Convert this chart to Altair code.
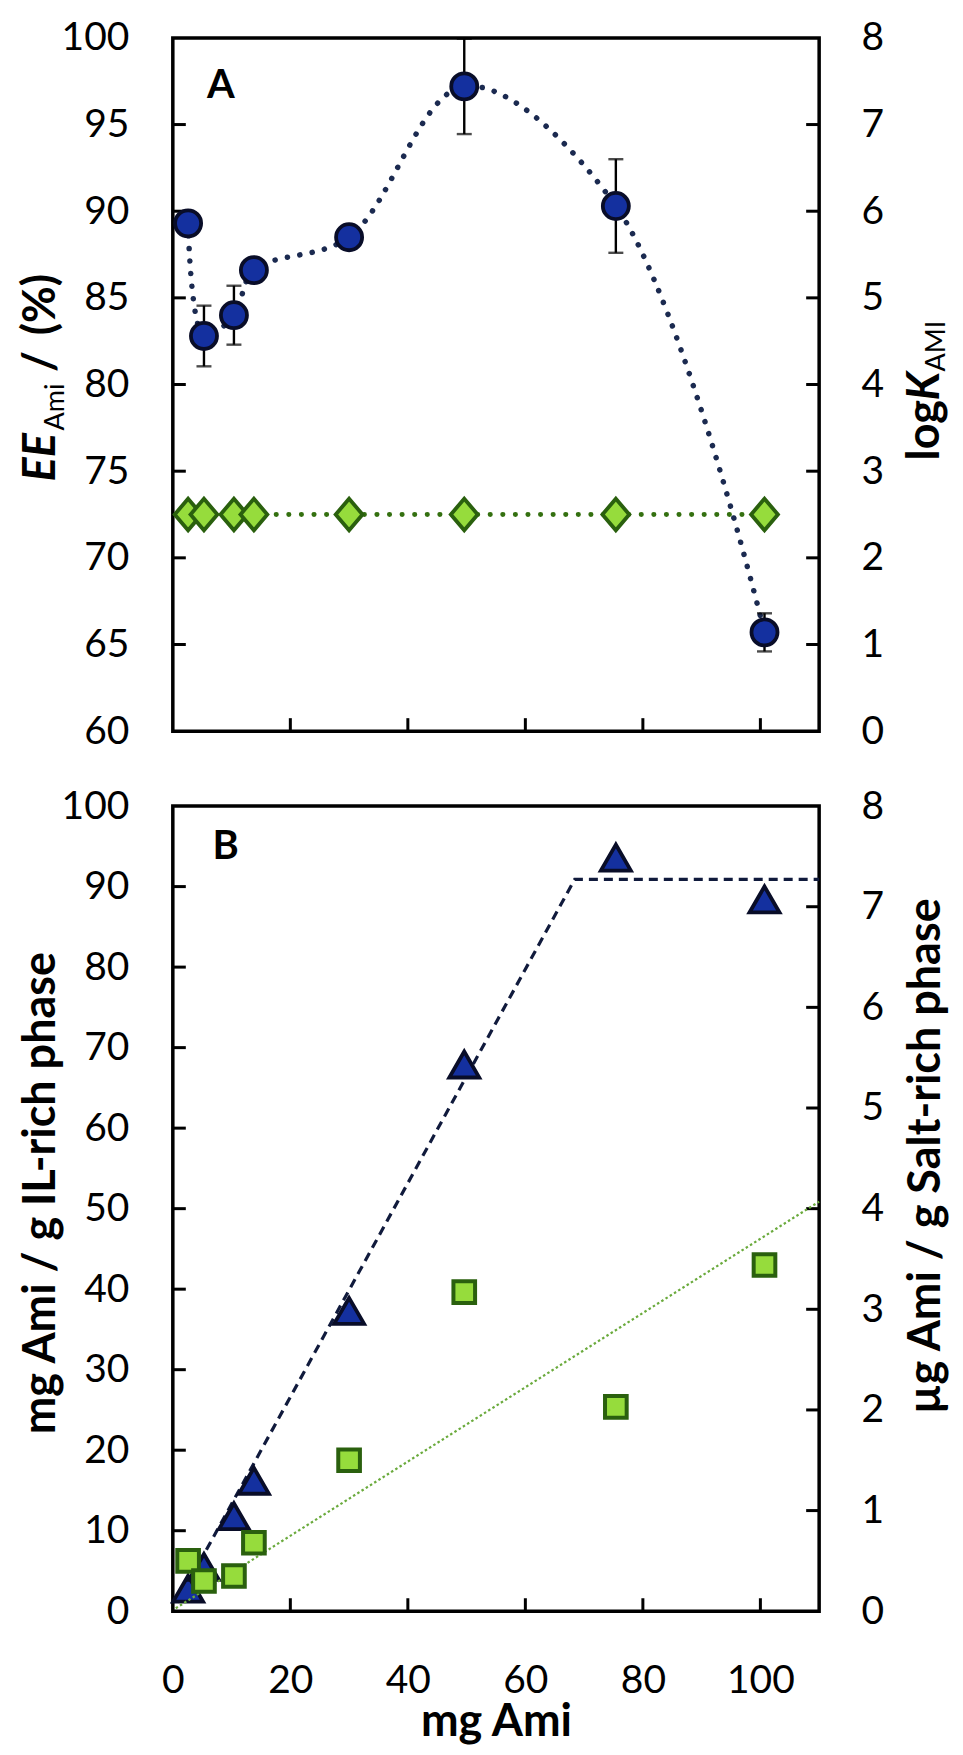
import altair as alt
import pandas as pd

# ---------------- data ----------------
mg_ami = [2.6, 5.3, 10.4, 13.8, 30.0, 49.6, 75.4, 100.7]
ee_ami = [89.3, 82.8, 84.0, 86.6, 88.5, 97.2, 90.3, 65.7]
ee_err = [0.4, 1.75, 1.7, 0.4, 0.4, 2.75, 2.7, 1.1]
logk_ami = [2.5, 2.5, 2.5, 2.5, 2.5, 2.5, 2.5, 2.5]

il_rich = [2.8, 5.5, 11.8, 16.2, 37.3, 67.9, 93.6, 88.4]
salt_rich = [0.50, 0.30, 0.35, 0.68, 1.50, 3.17, 2.03, 3.44]

il_fit_x = [0.8, 68.4, 110.0]
il_fit_y = [1.1, 90.9, 90.9]
salt_fit_x = [0.5, 110.0]
salt_fit_y = [0.03, 4.07]

x_ticks = [0, 20, 40, 60, 80, 100]
ee_ticks = [60, 65, 70, 75, 80, 85, 90, 95, 100]
logk_ticks = [0, 1, 2, 3, 4, 5, 6, 7, 8]
il_ticks = [0, 10, 20, 30, 40, 50, 60, 70, 80, 90, 100]
salt_ticks = [0, 1, 2, 3, 4, 5, 6, 7, 8]

panel_letters = ["A", "B"]
ee_title_parts = ["EE", "Ami", "/", "(%)"]
logk_title_parts = ["log", "K", "AMI"]
x_title = "mg Ami"
il_title = "mg Ami / g IL-rich phase"
salt_title = "µg Ami / g Salt-rich phase"

# ---------------- style ----------------
W, HA, HB = 647, 694, 806
FONT = "Lato"
LAB = 39
TIT = 45
SUB = 27
TICK = 13
TX = -118  # baseline of the left (rotated) titles, relative to the plot's left edge

NAVY_FILL = "#14309f"
NAVY_EDGE = "#090d28"
NAVY_LINE = "#1b2a50"
GREEN_FILL = "#96dc3c"
GREEN_EDGE = "#2a600e"
GREEN_LINE = "#347010"
GREEN_LINE_B = "#6aaa3c"
DIAMOND = "M0,-1L0.85,0L0,1L-0.85,0Z"

xs = alt.Scale(domain=[0, 110], nice=False, zero=False)

# ================= Panel A =================
dA = pd.DataFrame({"x": mg_ami, "ee": ee_ami, "err": ee_err, "logk": logk_ami})
dA["lo"] = dA["ee"] - dA["err"]
dA["hi"] = dA["ee"] + dA["err"]

ys_ee = alt.Scale(domain=[60, 100], nice=False, zero=False)
ax_ee = alt.Axis(values=ee_ticks, orient="left", title=None, labelPadding=44)
ys_lk = alt.Scale(domain=[0, 8], nice=False, zero=False)
ax_lk = alt.Axis(values=logk_ticks, orient="right", title=None, labelPadding=42)

xA = alt.X("x:Q", scale=xs, axis=None)
baseA = alt.Chart(dA)

tk_ee = alt.Chart(pd.DataFrame({"t": ee_ticks[1:-1]})).mark_rule(
    strokeWidth=3, color="black").encode(
    y=alt.Y("t:Q", scale=ys_ee, axis=ax_ee), x=alt.value(0), x2=alt.value(TICK))
tk_xA = alt.Chart(pd.DataFrame({"t": x_ticks[1:]})).mark_rule(
    strokeWidth=3, color="black").encode(
    x=alt.X("t:Q", scale=xs, axis=None), y=alt.value(HA - TICK), y2=alt.value(HA))
ee_line = baseA.mark_line(interpolate="catmull-rom", strokeDash=[0.1, 12.5],
                          strokeCap="round", strokeWidth=5.5, color=NAVY_LINE).encode(
    x=xA, y=alt.Y("ee:Q", scale=ys_ee, axis=ax_ee))
ee_bar = baseA.mark_rule(strokeWidth=2.4, color="black").encode(
    x=xA, y=alt.Y("lo:Q", scale=ys_ee, axis=ax_ee), y2="hi:Q")
ee_cap_lo = baseA.mark_tick(orient="horizontal", size=15, thickness=2.4, color="black").encode(
    x=xA, y=alt.Y("lo:Q", scale=ys_ee, axis=ax_ee))
ee_cap_hi = baseA.mark_tick(orient="horizontal", size=15, thickness=2.4, color="black").encode(
    x=xA, y=alt.Y("hi:Q", scale=ys_ee, axis=ax_ee))
ee_pts = baseA.mark_point(shape="circle", size=680, filled=True, fill=NAVY_FILL,
                          stroke=NAVY_EDGE, strokeWidth=3.8, opacity=1).encode(
    x=xA, y=alt.Y("ee:Q", scale=ys_ee, axis=ax_ee))

leftA = alt.layer(tk_ee, tk_xA, ee_line, ee_bar, ee_cap_lo, ee_cap_hi, ee_pts)

tk_lk = alt.Chart(pd.DataFrame({"t": logk_ticks[1:-1]})).mark_rule(
    strokeWidth=3, color="black").encode(
    y=alt.Y("t:Q", scale=ys_lk, axis=ax_lk), x=alt.value(W - TICK), x2=alt.value(W))
lk_line = baseA.mark_line(strokeDash=[0.1, 12.5], strokeCap="round",
                          strokeWidth=5, color=GREEN_LINE).encode(
    x=xA, y=alt.Y("logk:Q", scale=ys_lk, axis=ax_lk))
lk_pts = baseA.mark_point(shape=DIAMOND, size=1000, filled=True, fill=GREEN_FILL,
                          stroke=GREEN_EDGE, strokeWidth=3.8, opacity=1).encode(
    x=xA, y=alt.Y("logk:Q", scale=ys_lk, axis=ax_lk))

rightA = alt.layer(tk_lk, lk_line, lk_pts)


def label(text, x, y, size, weight="bold", style="normal", angle=0, align="left",
          baseline="alphabetic"):
    return alt.Chart(pd.DataFrame({"s": [text]})).mark_text(
        font=FONT, fontSize=size, fontWeight=weight, fontStyle=style, angle=angle,
        align=align, baseline=baseline, color="black").encode(
        text="s:N", x=alt.value(x), y=alt.value(y))


tA = [
    # left title EE_Ami / (%), rotated, pieces reading upwards
    label(ee_title_parts[0], TX, 444, TIT, style="italic", angle=270),
    label(ee_title_parts[1], TX + 9, 393, SUB, weight="normal", angle=270),
    label(ee_title_parts[2], TX, 324, TIT, angle=270, align="center"),
    label(ee_title_parts[3], TX, 267, TIT, angle=270, align="center"),
    # right title logK_AMI
    label(logk_title_parts[0], W + 120, 423, TIT, angle=270),
    label(logk_title_parts[1], W + 120, 363, TIT, style="italic", angle=270),
    label(logk_title_parts[2], W + 126, 334, SUB, weight="normal", angle=270),
    # panel letter
    label(panel_letters[0], 48, 48, 40, align="center", baseline="middle"),
]

panelA = alt.layer(leftA, rightA, *tA).resolve_scale(y="independent").properties(
    width=W, height=HA)

# ================= Panel B =================
dB = pd.DataFrame({"x": mg_ami, "il": il_rich, "salt": salt_rich})
dFit = pd.DataFrame({"fx": il_fit_x, "fy": il_fit_y})
dSfit = pd.DataFrame({"fx": salt_fit_x, "fy": salt_fit_y})

ax_xB = alt.Axis(values=x_ticks, orient="bottom", title=x_title, labelPadding=50,
                 titleY=124, titleX=W / 2, titleAlign="center", titleBaseline="alphabetic")
ys_il = alt.Scale(domain=[0, 100], nice=False, zero=False)
ax_il = alt.Axis(values=il_ticks, orient="left", title=il_title, labelPadding=44,
                 titleAngle=270, titleX=TX, titleY=387, titleAlign="center",
                 titleBaseline="alphabetic")
ys_salt = alt.Scale(domain=[0, 8], nice=False, zero=False)
ax_salt = alt.Axis(values=salt_ticks, orient="right", title=salt_title, labelPadding=42,
                   titleAngle=270, titleX=120, titleY=350, titleAlign="center",
                   titleBaseline="alphabetic")


def xB(field):
    return alt.X(field, type="quantitative", scale=xs, axis=ax_xB)


tk_il = alt.Chart(pd.DataFrame({"t": il_ticks[1:-1]})).mark_rule(
    strokeWidth=3, color="black").encode(
    y=alt.Y("t:Q", scale=ys_il, axis=ax_il), x=alt.value(0), x2=alt.value(TICK))
tk_xB = alt.Chart(pd.DataFrame({"t": x_ticks[1:]})).mark_rule(
    strokeWidth=3, color="black").encode(
    x=xB("t"), y=alt.value(HB - TICK), y2=alt.value(HB))
il_line = alt.Chart(dFit).mark_line(strokeDash=[9, 6], strokeWidth=3.2, color="#101a3c").encode(
    x=xB("fx"), y=alt.Y("fy:Q", scale=ys_il, axis=ax_il))
il_pts = alt.Chart(dB).mark_point(shape="triangle-up", size=900, filled=True, fill=NAVY_FILL,
                                  stroke=NAVY_EDGE, strokeWidth=3.8, opacity=1).encode(
    x=xB("x"), y=alt.Y("il:Q", scale=ys_il, axis=ax_il))
leftB = alt.layer(tk_il, tk_xB, il_line, il_pts)

tk_salt = alt.Chart(pd.DataFrame({"t": salt_ticks[1:-1]})).mark_rule(
    strokeWidth=3, color="black").encode(
    y=alt.Y("t:Q", scale=ys_salt, axis=ax_salt), x=alt.value(W - TICK), x2=alt.value(W))
salt_line = alt.Chart(dSfit).mark_line(strokeDash=[2.5, 2.5], strokeWidth=2.2,
                                       color=GREEN_LINE_B).encode(
    x=xB("fx"), y=alt.Y("fy:Q", scale=ys_salt, axis=ax_salt))
salt_pts = alt.Chart(dB).mark_point(shape="square", size=470, filled=True, fill=GREEN_FILL,
                                    stroke=GREEN_EDGE, strokeWidth=4, opacity=1).encode(
    x=xB("x"), y=alt.Y("salt:Q", scale=ys_salt, axis=ax_salt))
rightB = alt.layer(tk_salt, salt_line, salt_pts)

tB = [label(panel_letters[1], 53, 41, 40, align="center", baseline="middle")]

panelB = alt.layer(leftB, rightB, *tB).resolve_scale(y="independent").properties(
    width=W, height=HB)

chart = alt.vconcat(panelA, panelB, spacing=32).properties(
    padding={"left": 9, "top": 8, "right": 3, "bottom": 2}
).configure_view(stroke="black", strokeWidth=3.5).configure_axis(
    grid=False, domain=False, ticks=False, tickSize=0,
    labelFont=FONT, labelFontSize=LAB, labelColor="black",
    labelFlush=False, labelOverlap=False,
    titleFont=FONT, titleFontSize=TIT, titleFontWeight="bold", titleColor="black")

chart.save("out.html", embed_options={"renderer": "svg", "actions": False})
